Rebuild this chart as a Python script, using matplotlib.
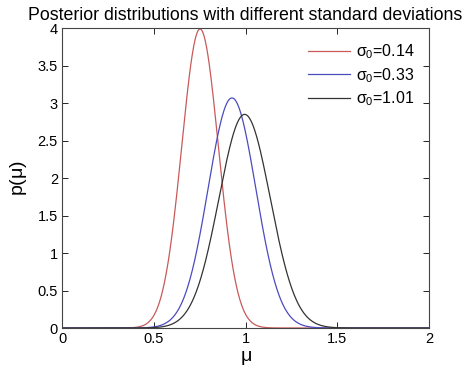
import numpy as np
import matplotlib.pyplot as plt

plt.rcParams['font.family'] = ['Liberation Sans', 'DejaVu Sans']
plt.rcParams['mathtext.fontset'] = 'custom'
plt.rcParams['mathtext.rm'] = 'Liberation Sans'
plt.rcParams['mathtext.it'] = 'Liberation Sans'

# posterior parameters
labels = ['0.14', '0.33', '1.01']
post_mean = [0.752, 0.926, 0.995]
post_sd = [0.100, 0.130, 0.140]
colors = ['#c85a5a', '#4b4bc0', '#333333']

mu = np.linspace(0, 2, 801)

fig = plt.figure(figsize=(4.74, 3.70), dpi=100)
ax = fig.add_axes([0.131, 0.1135, 0.774, 0.8105])

for lab, m, s, c in zip(labels, post_mean, post_sd, colors):
    p = np.exp(-0.5 * ((mu - m) / s) ** 2) / (np.sqrt(2 * np.pi) * s)
    ax.plot(mu, p, color=c, lw=0.9, label=r'$\sigma_0$=' + lab)

ax.set_xlim(0, 2)
ax.set_ylim(0, 4)
ax.set_xticks([0, 0.5, 1, 1.5, 2])
ax.set_xticklabels(['0', '0.5', '1', '1.5', '2'])
ax.set_yticks(np.arange(0, 4.01, 0.5))
ax.set_yticklabels(['0', '0.5', '1', '1.5', '2', '2.5', '3', '3.5', '4'])
ax.tick_params(direction='in', top=True, right=True, labelsize=10.5, length=4, width=0.6, pad=3)
for sp in ax.spines.values():
    sp.set_linewidth(0.8)
    sp.set_color('#444444')

ax.set_title('Posterior distributions with different standard deviations', fontsize=12.8, pad=6)
ax.set_xlabel(r'$\mu$', fontsize=14, labelpad=2)
ax.set_ylabel(r'p($\mu$)', fontsize=14, labelpad=6)

ax.legend(loc='upper right', frameon=False, fontsize=11.5, handlelength=2.6,
          handletextpad=0.4, labelspacing=0.3, borderaxespad=0.5)

fig.savefig('out.png', dpi=100)
